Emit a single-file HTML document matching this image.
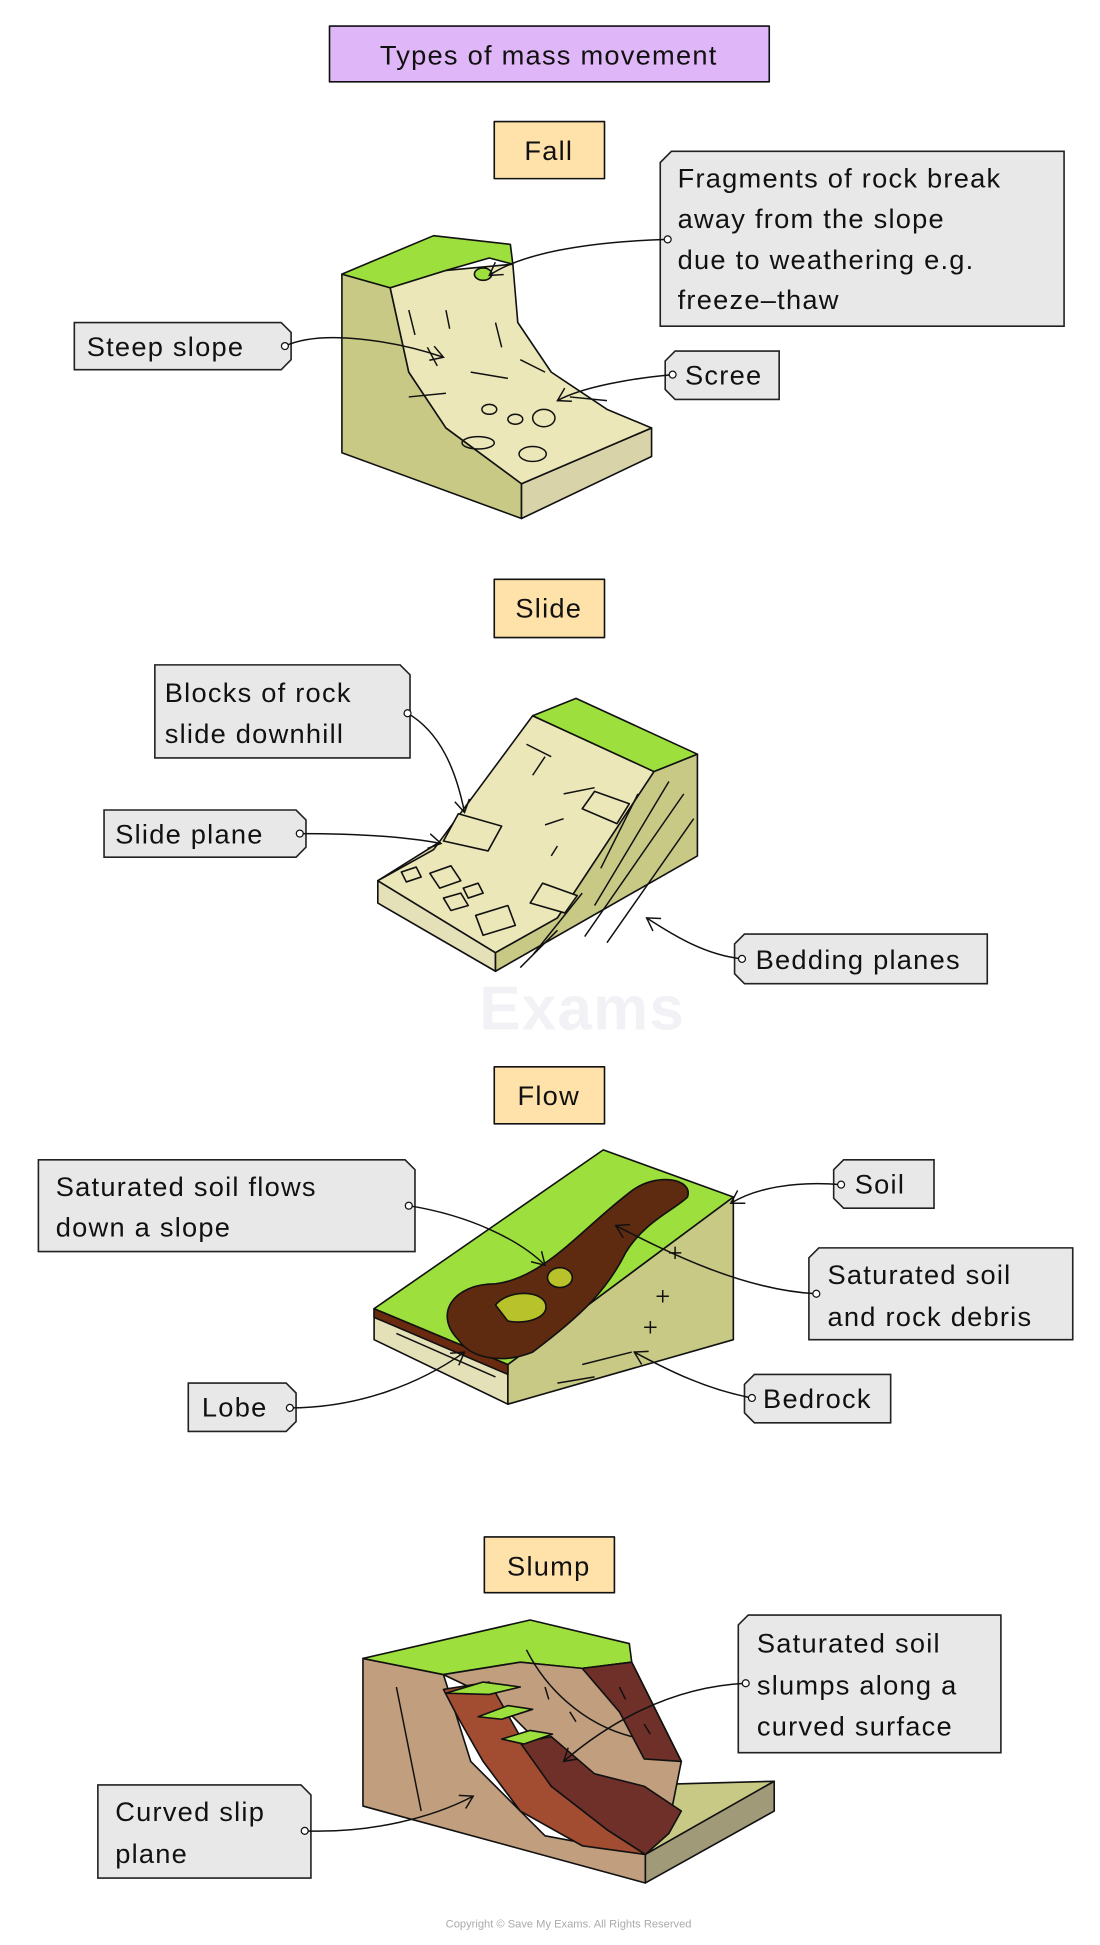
<!DOCTYPE html>
<html><head><meta charset="utf-8"><style>
html,body{margin:0;padding:0;background:#fff;}
svg{display:block;}
text{font-family:"Liberation Sans",sans-serif;font-size:22px;fill:#111;letter-spacing:1px;}
.lb{fill:#e8e8e8;stroke:#222;stroke-width:1.3;}
.ln{fill:none;stroke:#111;stroke-width:1.2;}
.c{fill:none;stroke:#111;stroke-width:1.2;marker-start:url(#dot);marker-end:url(#arr);}
.o{stroke:#111;stroke-width:1.3;stroke-linejoin:round;}
</style></head><body>
<svg width="1100" height="1945" viewBox="0 0 888 1568" preserveAspectRatio="none" xmlns="http://www.w3.org/2000/svg">
<defs>
<marker id="dot" markerWidth="8" markerHeight="8" refX="4" refY="4" markerUnits="userSpaceOnUse"><circle cx="4" cy="4" r="2.8" fill="#fff" stroke="#111" stroke-width="1"/></marker>
<marker id="arr" markerWidth="14" markerHeight="14" refX="12" refY="7" orient="auto" markerUnits="userSpaceOnUse"><path d="M2 1 L12 7 L2 13" fill="none" stroke="#111" stroke-width="1.2"/></marker>
</defs>
<rect x="266" y="21" width="355" height="45" fill="#dfb6f7" class="o"/>
<text x="443" y="52" text-anchor="middle">Types of mass movement</text>
<rect x="399" y="98" width="89" height="46" fill="#ffe1aa" class="o"/><text x="443" y="129" text-anchor="middle">Fall</text>
<rect x="399" y="467" width="89" height="47" fill="#ffe1aa" class="o"/><text x="443" y="498" text-anchor="middle">Slide</text>
<rect x="399" y="860" width="89" height="46" fill="#ffe1aa" class="o"/><text x="443" y="891" text-anchor="middle">Flow</text>
<rect x="391" y="1239" width="105" height="45" fill="#ffe1aa" class="o"/><text x="443" y="1270" text-anchor="middle">Slump</text>

<!-- FALL -->
<polygon class="o" fill="#c8c985" points="276,221 315,232 330,300 360,345 421,390 421,418 276,365"/>
<polygon class="o" fill="#d8d3a8" points="421,390 526,345 526,368 421,418"/>
<polygon class="o" fill="#ebe7b8" points="315,232 360,218 414,213 418,260 445,300 490,330 526,345 421,390 360,345 330,300"/>
<polygon class="o" fill="#9ddf3c" points="276,221 350,190 412,197 414,213 395,208 360,218 315,232"/>
<ellipse cx="390" cy="221" rx="7" ry="5" fill="#9ddf3c" class="o"/>
<g class="ln"><path d="M330 250 l5 20 M345 280 l8 15 M360 250 l3 15 M380 300 l30 5 M420 290 l20 10 M330 320 l30 -3 M400 260 l5 20 M460 320 l30 3"/>
<ellipse cx="439" cy="337" rx="9" ry="7"/><ellipse cx="386" cy="357" rx="13" ry="5"/><ellipse cx="430" cy="366" rx="11" ry="6"/><ellipse cx="416" cy="338" rx="6" ry="4"/><ellipse cx="395" cy="330" rx="6" ry="4"/></g>
<path class="lb" d="M542 122 H859 V263 H533 V131 Z"/>
<text x="547" y="151">Fragments of rock break</text><text x="547" y="184">away from the slope</text><text x="547" y="217">due to weathering e.g.</text><text x="547" y="249">freeze–thaw</text>
<path class="c" d="M539 193 C470 195 420 205 395 222"/>
<path class="lb" d="M60 260 H227 L235 268 V290 L227 298 H60 Z"/><text x="70" y="287">Steep slope</text>
<path class="c" d="M230 279 C260 265 320 275 358 288"/>
<path class="lb" d="M545 283 H629 V322 H545 L537 314 V291 Z"/><text x="553" y="310">Scree</text>
<path class="c" d="M543 302 C510 305 470 312 450 323"/>

<!-- SLIDE -->
<polygon class="o" fill="#d9d5aa" points="305,710 353,680 450,735 400,768"/>
<polygon class="o" fill="#e4e0b8" points="305,710 400,768 400,783 305,728"/>
<polygon class="o" fill="#ebe7b8" points="350,685 430,577 528,622 450,740 400,768 305,710"/>
<polygon class="o" fill="#c8c985" points="528,622 563,608 563,690 400,783 400,768 450,740"/>
<polygon class="o" fill="#9ddf3c" points="430,577 465,563 563,608 528,622"/>
<g class="ln"><path d="M540 630 l-60 100 M552 640 l-80 115 M560 660 l-70 100 M470 720 l-40 50 M515 640 l-30 60 M420 780 l30 -30"/>
<path d="M425 600 l20 10 M430 625 l10 -15 M440 665 l15 -5 M445 690 l5 -8 M455 640 l25 -5"/></g>
<g class="o" fill="#ebe7b8"><polygon points="358,678 370,656 405,666 394,686"/><polygon points="470,652 480,638 508,648 498,664"/>
<polygon points="428,728 438,712 466,722 456,736"/><polygon points="384,738 410,730 416,746 390,754"/><polygon points="347,704 364,698 372,710 355,716"/><polygon points="324,703 336,699 340,707 328,711"/><polygon points="358,724 372,720 378,730 364,734"/><polygon points="374,716 386,712 390,720 378,724"/></g>
<path class="lb" d="M125 536 H323 L331 544 V611 H125 Z"/><text x="133" y="566">Blocks of rock</text><text x="133" y="599">slide downhill</text>
<path class="c" d="M329 575 C355 590 368 620 375 655"/>
<path class="lb" d="M84 653 H239 L247 661 V683 L239 691 H84 Z"/><text x="93" y="680">Slide plane</text>
<path class="c" d="M242 672 C290 672 330 675 356 680"/>
<path class="lb" d="M601 753 H797 V793 H601 L593 785 V761 Z"/><text x="610" y="781">Bedding planes</text>
<path class="c" d="M599 773 C570 770 545 755 522 740"/>
<text x="470" y="830" text-anchor="middle" style="font-size:50px;fill:#f2f2f6;font-weight:bold">Exams</text>

<!-- FLOW -->
<polygon class="o" fill="#e4e0b8" points="302,1055 410,1100 410,1132 302,1080"/>
<polygon class="o" fill="#c8c985" points="410,1100 592,965 592,1080 410,1132"/>
<polygon class="o" fill="#6a2a10" points="302,1055 410,1100 410,1108 302,1062"/>
<polygon class="o" fill="#9ddf3c" points="302,1055 487,927 592,965 410,1100"/>
<path class="o" fill="#5e2a10" d="M370 1080 C350 1060 365 1035 400 1035 C440 1030 470 990 510 960 C530 945 560 950 555 965 C545 975 520 985 505 1010 C490 1040 470 1060 430 1090 C405 1100 380 1095 370 1080 Z"/>
<path class="o" fill="#b8c22a" d="M400 1052 C410 1040 435 1040 440 1050 C445 1062 425 1068 410 1065 Z"/>
<ellipse cx="452" cy="1030" rx="10" ry="8" fill="#b8c22a" class="o"/>
<g class="ln"><path d="M540 1010 l10 0 M545 1005 l0 10 M520 1070 l10 0 M525 1065 l0 10 M530 1045 l10 0 M535 1040 l0 10 M470 1100 l40 -10 M450 1115 l30 -5 M320 1075 l80 35"/></g>
<path class="lb" d="M31 935 H327 L335 943 V1009 H31 Z"/><text x="45" y="964">Saturated soil flows</text><text x="45" y="997">down a slope</text>
<path class="c" d="M330 972 C380 980 420 1000 440 1020"/>
<path class="lb" d="M681 935 H754 V974 H681 L673 966 V943 Z"/><text x="690" y="962">Soil</text>
<path class="c" d="M679 955 C640 952 610 958 590 970"/>
<path class="lb" d="M661 1006 H866 V1080 H653 V1014 Z"/><text x="668" y="1035">Saturated soil</text><text x="668" y="1069">and rock debris</text>
<path class="c" d="M659 1043 C600 1040 540 1010 497 988"/>
<path class="lb" d="M152 1115 H231 L239 1123 V1146 L231 1154 H152 Z"/><text x="163" y="1142">Lobe</text>
<path class="c" d="M234 1135 C290 1135 340 1115 375 1090"/>
<path class="lb" d="M609 1108 H719 V1147 H609 L601 1139 V1116 Z"/><text x="616" y="1135">Bedrock</text>
<path class="c" d="M607 1127 C570 1120 540 1105 512 1090"/>

<!-- SLUMP -->
<polygon class="o" fill="#c19e7e" points="293,1337 358,1350 380,1420 440,1480 521,1495 521,1518 293,1456"/>
<polygon class="o" fill="#c8c985" points="480,1440 625,1436 521,1495 470,1480"/>
<polygon class="o" fill="#a09a78" points="521,1495 625,1436 625,1460 521,1518"/>
<polygon class="o" fill="#9ddf3c" points="293,1337 428,1306 508,1325 510,1340 470,1345 420,1340 358,1350"/>
<path class="o" fill="#c19e7e" d="M358 1350 L420 1340 L470 1345 L510 1340 L550 1420 L540 1470 L500 1460 L470 1440 L430 1400 L400 1370 Z"/>
<path class="o" fill="#6e3028" d="M470 1345 L510 1340 L520 1360 L550 1420 L520 1418 L500 1380 Z"/>
<path class="o" fill="#a24c32" d="M358 1362 L395 1356 L420 1400 L445 1440 L490 1475 L521 1495 L470 1488 L420 1460 L390 1420 L370 1385 Z"/>
<path class="o" fill="#6e3028" d="M420 1405 L445 1400 L480 1430 L520 1440 L550 1460 L540 1478 L521 1495 L490 1475 L445 1440 Z"/>
<polygon class="o" fill="#9ddf3c" points="360,1365 390,1356 420,1360 395,1366"/>
<polygon class="o" fill="#9ddf3c" points="386,1384 410,1375 430,1378 405,1386"/>
<polygon class="o" fill="#9ddf3c" points="405,1402 428,1395 446,1398 423,1406"/>
<g class="ln"><path d="M425 1330 C440 1360 470 1390 510 1400 M440 1360 l3 10 M460 1380 l5 8 M500 1360 l5 10 M520 1390 l5 8 M320 1360 l20 100"/></g>
<path class="lb" d="M604 1302 H808 V1413 H596 V1310 Z"/><text x="611" y="1332">Saturated soil</text><text x="611" y="1366">slumps along a</text><text x="611" y="1399">curved surface</text>
<path class="c" d="M602 1357 C540 1360 490 1390 455 1420"/>
<path class="lb" d="M79 1439 H243 L251 1447 V1514 H79 Z"/><text x="93" y="1468">Curved slip</text><text x="93" y="1502">plane</text>
<path class="c" d="M246 1476 C300 1478 350 1465 382 1448"/>

<text x="459" y="1554" text-anchor="middle" style="font-size:9px;fill:#aaa;letter-spacing:0">Copyright © Save My Exams. All Rights Reserved</text>
</svg>
</body></html>
